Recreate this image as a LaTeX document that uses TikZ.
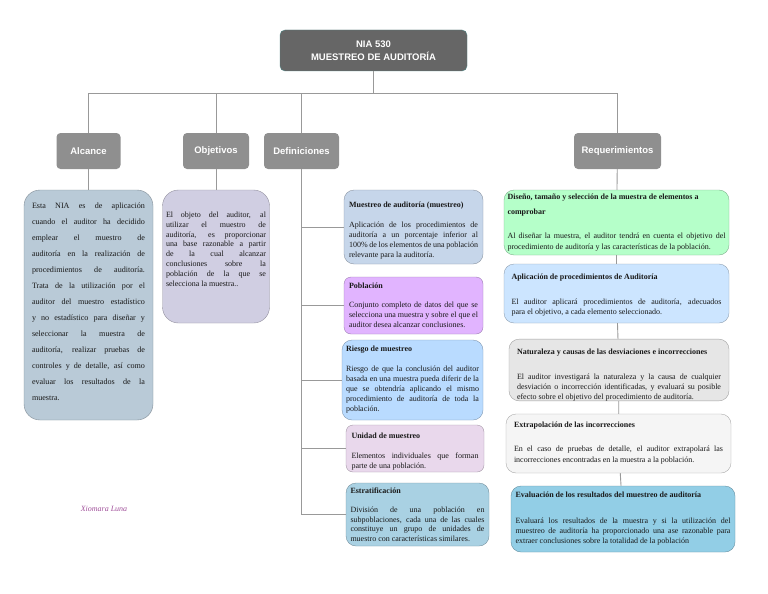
\documentclass[tikz,border=0pt]{standalone}
\usepackage{fontspec}
\setmainfont{Liberation Serif}
\setsansfont{Liberation Sans}
\usepackage{xcolor}
\usetikzlibrary{positioning}
\definecolor{titlegray}{HTML}{666666}
\definecolor{titleedge}{HTML}{4F8585}
\definecolor{headgray}{HTML}{8F8F8F}
\definecolor{linegray}{HTML}{999999}
\definecolor{alcfill}{HTML}{B9CAD7}
\definecolor{objfill}{HTML}{D0CEE2}
\definecolor{muefill}{HTML}{C6D6EA}
\definecolor{pobfill}{HTML}{E1B4FF}
\definecolor{riefill}{HTML}{B9DBFF}
\definecolor{unifill}{HTML}{E9D8EC}
\definecolor{estfill}{HTML}{A9D1E3}
\definecolor{disfill}{HTML}{B5FFC9}
\definecolor{aplfill}{HTML}{CCE5FF}
\definecolor{natfill}{HTML}{E6E6E6}
\definecolor{extfill}{HTML}{F5F5F5}
\definecolor{evafill}{HTML}{92CEE6}
\definecolor{firma}{HTML}{A0509A}

\begin{document}
\begin{tikzpicture}[
    x=1pt, y=-1pt,
    title/.style={draw=titleedge, fill=titlegray, rounded corners=5pt, text=white, align=center,
                  font=\fontsize{9.5}{12.5}\selectfont\sffamily\bfseries, minimum width=187pt, minimum height=41pt},
    head/.style={fill=headgray, rounded corners=4pt, text=white, minimum height=36pt,
                 font=\fontsize{9.5}{11}\selectfont\sffamily\bfseries},
    txt/.style={draw=#1!70!black, fill=#1, rounded corners=10pt, align=justify, inner ysep=0pt,
                text=black!90, font=\fontsize{8}{10}\selectfont},
    arr/.style={draw=linegray, line width=0.9pt},
  ]
  \useasboundingbox (0,0) rectangle (768,594);

  % Title
  \node[title] (nia) at (373.5,50.5) {NIA 530\\MUESTREO DE AUDITORÍA};
  \coordinate (bus) at (373.5,93);

  % Headers
  \node[head, minimum width=64pt] (alcance) at (88.5,151) {Alcance};
  \node[head, minimum width=66pt] (objetivos) at (216,151) {Objetivos};
  \node[head, minimum width=75pt] (definiciones) at (301.5,151) {Definiciones};
  \node[head, minimum width=87pt] (requerimientos) at (617.5,151) {Requerimientos};

  % Alcance + Objetivos
  \node[txt=alcfill, rounded corners=16pt, text width=113pt, inner xsep=8pt, minimum height=230pt,
        font=\fontsize{8.1}{16}\selectfont] (alcancetxt) at (88.5,305)
    {Esta NIA es de aplicación\linebreak cuando el auditor ha decidido\linebreak emplear el muestro de\linebreak auditoría en la realización de\linebreak procedimientos de auditoría.\linebreak Trata de la utilización por el\linebreak auditor del muestro estadístico\linebreak y no estadístico para diseñar y\linebreak seleccionar la muestra de\linebreak auditoría, realizar pruebas de\linebreak controles y de detalle, así como\linebreak evaluar los resultados de la\linebreak muestra.\\[-10pt]\mbox{}};
  \node[txt=objfill, rounded corners=16pt, text width=100pt, inner xsep=3.5pt, minimum height=133pt,
        font=\fontsize{8}{9.8}\selectfont] (objetivostxt) at (216,256.5)
    {El objeto del auditor, al\linebreak utilizar el muestro de\linebreak auditoría, es proporcionar\linebreak una base razonable a partir\linebreak de la cual alcanzar\linebreak conclusiones sobre la\linebreak población de la que se\linebreak selecciona la muestra..\\[5pt]\mbox{}};

  % Definiciones
  \node[txt=muefill, text width=129pt, inner xsep=5pt, minimum height=74pt,
        font=\fontsize{8}{9.7}\selectfont] (muestreo) at (413.5,227)
    {\mbox{}\\[2.3pt]\textbf{Muestreo de auditoría (muestreo)}\\[11pt]Aplicación de los procedimientos de\linebreak auditoría a un porcentaje inferior al\linebreak 100\% de los elementos de una población\linebreak relevante para la auditoría.};
  \node[txt=pobfill, rounded corners=7pt, text width=129pt, inner xsep=5pt, minimum height=57pt] (poblacion) at (413.5,305.5)
    {\mbox{}\\[-5.7pt]\textbf{Población}\\[9pt]Conjunto completo de datos del que se\linebreak selecciona una muestra y sobre el que el\linebreak auditor desea alcanzar conclusiones.};
  \node[txt=riefill, text width=133pt, inner xsep=4pt, minimum height=80pt] (riesgo) at (412.5,380)
    {\textbf{Riesgo de muestreo}\\[10pt]Riesgo de que la conclusión del auditor\linebreak basada en una muestra pueda diferir de la\linebreak que se obtendría aplicando el mismo\linebreak procedimiento de auditoría de toda la\linebreak población.\\[-8pt]\mbox{}};
  \node[txt=unifill, rounded corners=7pt, text width=127pt, inner xsep=5.5pt, minimum height=47pt] (unidad) at (415,448.5)
    {\mbox{}\\[1pt]\textbf{Unidad de muestreo}\\[10pt]Elementos individuales que forman\linebreak parte de una población.};
  \node[txt=estfill, text width=134pt, inner xsep=4.5pt, minimum height=63pt,
        font=\fontsize{8}{9.5}\selectfont] (estratificacion) at (417.5,514.5)
    {\textbf{Estratificación}\\[9.5pt]División de una población en\linebreak subpoblaciones, cada una de las cuales\linebreak constituye un grupo de unidades de\linebreak muestro con características similares.};

  % Requerimientos
  \node[txt=disfill, text width=218pt, inner xsep=3.5pt, minimum height=65pt,
        font=\fontsize{8}{11}\selectfont] (diseno) at (616.5,222.5)
    {\textbf{Diseño, tamaño y selección de la muestra de elementos a}\\[4pt]\textbf{comprobar}\\[13pt]Al diseñar la muestra, el auditor tendrá en cuenta el objetivo del\linebreak procedimiento de auditoría y las características de la población.};
  \node[txt=aplfill, text width=210pt, inner xsep=7.5pt, minimum height=59pt] (aplicacion) at (616.5,293.5)
    {\mbox{}\\[-2pt]\textbf{Aplicación de procedimientos de Auditoría}\\[15pt]El auditor aplicará procedimientos de auditoría, adecuados\linebreak para el objetivo, a cada elemento seleccionado.};
  \node[txt=natfill, text width=204pt, inner xsep=8pt, minimum height=60pt] (naturaleza) at (619,370)
    {\mbox{}\\[5pt]\textbf{Naturaleza y causas de las desviaciones e incorrecciones}\\[15pt]El auditor investigará la naturaleza y la causa de cualquier\linebreak desviación o incorrección identificadas, y evaluará su posible\linebreak efecto sobre el objetivo del procedimiento de auditoría.};
  \node[txt=extfill, text width=209pt, inner xsep=8pt, minimum height=59pt,
        font=\fontsize{8}{11}\selectfont] (extrapolacion) at (618.5,443.5)
    {\mbox{}\\[-7pt]\textbf{Extrapolación de las incorrecciones}\\[13pt]En el caso de pruebas de detalle, el auditor extrapolará las\linebreak incorrecciones encontradas en la muestra a la población.};
  \node[txt=evafill, text width=215pt, inner xsep=4.5pt, minimum height=66pt] (evaluacion) at (623,519)
    {\textbf{Evaluación de los resultados del muestreo de auditoría}\\[16pt]Evaluará los resultados de la muestra y si la utilización del\linebreak muestreo de auditoría ha proporcionado una ase razonable para\linebreak extraer conclusiones sobre la totalidad de la población\\[-7.5pt]\mbox{}};

  % Firma
  \node[font=\fontsize{8}{9}\selectfont\itshape, text=firma] (firmatxt) at (104,509) {Xiomara Luna};

  % Lines
  \draw[arr] (nia) -- (bus);
  \draw[arr] (alcance) |- (bus);
  \draw[arr] (objetivos) -- (objetivos |- bus);
  \draw[arr] (definiciones) -- (definiciones |- bus);
  \draw[arr] (requerimientos) |- (bus);
  \draw[arr] (alcance) -- (alcancetxt);
  \draw[arr] (objetivos) -- (objetivostxt);
  \draw[arr] (definiciones) |- (estratificacion.west);
  \draw[arr] (definiciones |- muestreo.west) -- (muestreo);
  \draw[arr] (definiciones |- poblacion.west) -- (poblacion);
  \draw[arr] (definiciones |- riesgo.west) -- (riesgo);
  \draw[arr] (definiciones |- unidad.west) -- (unidad);
  \draw[arr] (requerimientos) -- (diseno);
  \draw[arr] (diseno) -- (aplicacion);
  \draw[arr] (aplicacion) -- (naturaleza);
  \draw[arr] (naturaleza) -- (extrapolacion);
  \draw[arr] (extrapolacion) -- (evaluacion);

\end{tikzpicture}
\end{document}
